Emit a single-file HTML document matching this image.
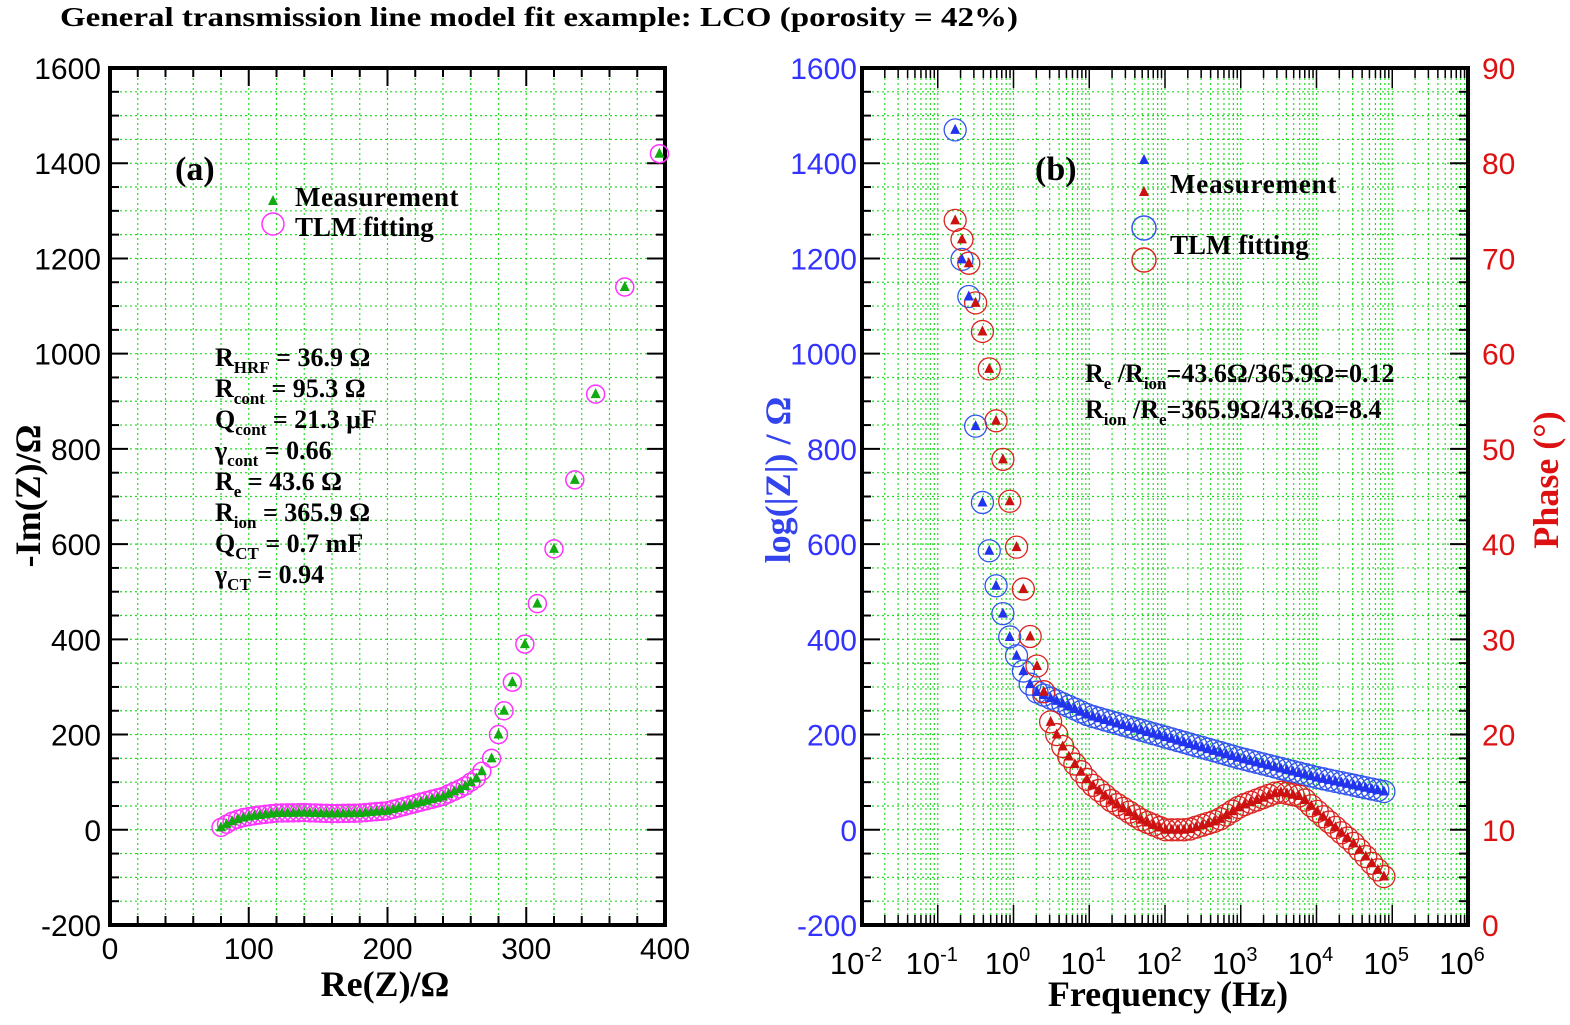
<!DOCTYPE html><html><head><meta charset="utf-8"><style>
body{margin:0;background:#fff;width:1570px;height:1020px;overflow:hidden}
svg{font-family:"Liberation Serif",serif}
.s{font-family:"Liberation Sans",sans-serif}
</style></head><body>
<svg id="c" width="1570" height="1020" xmlns="http://www.w3.org/2000/svg">
<text x="60" y="26" font-size="27" font-weight="bold" textLength="958" lengthAdjust="spacingAndGlyphs">General transmission line model fit example:  LCO (porosity = 42%)</text>
<g id="g"></g>
</svg>
<script>
const g=document.getElementById('g');let h='';
const ya=v=>925-(v+200)*(857/1800);
const xa=v=>110+v*(555/400);
const xb=f=>862+(Math.log10(f)+2)*(606/8);
const yp=p=>925-p*(857/90);
const dg='stroke="#22dd22" stroke-width="1.2" stroke-dasharray="2,3"';
for(let v=20;v<400;v+=20)h+=`<line x1="${xa(v)}" x2="${xa(v)}" y1="68" y2="925" ${dg}/>`;
for(let v=-150;v<1600;v+=50)h+=`<line x1="110" x2="665" y1="${ya(v)}" y2="${ya(v)}" ${dg}/>`;
for(let d=-2;d<6;d++)for(let k=1;k<10;k++){if(d==-2&&k==1)continue;let x=xb(k*10**d);h+=`<line x1="${x}" x2="${x}" y1="68" y2="925" ${dg}/>`;}
for(let v=-150;v<1600;v+=50)h+=`<line x1="862" x2="1468" y1="${ya(v)}" y2="${ya(v)}" ${dg}/>`;
for(let v=0;v<=400;v+=20){let L=v%100==0?18:9,x=xa(v);h+=`<line x1="${x}" x2="${x}" y1="925" y2="${925-L}" stroke="#000" stroke-width="2"/><line x1="${x}" x2="${x}" y1="68" y2="${68+L}" stroke="#000" stroke-width="2"/>`;}
for(let v=-200;v<=1600;v+=50){let L=v%200==0?18:9,y=ya(v);h+=`<line x1="110" x2="${110+L}" y1="${y}" y2="${y}" stroke="#000" stroke-width="2"/><line x1="665" x2="${665-L}" y1="${y}" y2="${y}" stroke="#000" stroke-width="2"/>`;}
for(let v=0;v<=400;v+=100)h+=`<text class="s" x="${xa(v)}" y="959" font-size="30" text-anchor="middle">${v}</text>`;
for(let v=-200;v<=1600;v+=200)h+=`<text class="s" x="101" y="${ya(v)+11}" font-size="30" text-anchor="end">${v}</text>`;
for(let d=-2;d<6;d++)for(let k=1;k<10;k++){let x=xb(k*10**d),L=k==1?20:10;h+=`<line x1="${x}" x2="${x}" y1="925" y2="${925-L}" stroke="#000" stroke-width="1.5"/><line x1="${x}" x2="${x}" y1="68" y2="${68+L}" stroke="#000" stroke-width="1.5"/>`;}
for(let v=-200;v<=1600;v+=50){let L=v%200==0?18:9,y=ya(v);h+=`<line x1="862" x2="${862+L}" y1="${y}" y2="${y}" stroke="#000" stroke-width="2"/>`;}
for(let p=0;p<=90;p+=2.5){let L=p%10==0?18:9,y=yp(p);h+=`<line x1="1468" x2="${1468-L}" y1="${y}" y2="${y}" stroke="#000" stroke-width="2"/>`;}
for(let d=-2;d<=6;d++)h+=`<text class="s" x="${xb(10**d)-6}" y="974" font-size="31" text-anchor="middle">10<tspan dy="-13" font-size="20">${d}</tspan></text>`;
for(let v=-200;v<=1600;v+=200)h+=`<text class="s" x="857" y="${ya(v)+11}" font-size="30" text-anchor="end" fill="#3333ff">${v}</text>`;
for(let p=0;p<=90;p+=10)h+=`<text class="s" x="1482" y="${yp(p)+11}" font-size="30" fill="#dd1111">${p}</text>`;
h+=`<rect x="110" y="68" width="555" height="857" fill="none" stroke="#000" stroke-width="4"/>`;
h+=`<rect x="862" y="68" width="606" height="857" fill="none" stroke="#000" stroke-width="4"/>`;
function interp(P,t){for(let i=0;i<P.length-1;i++)if(t<=P[i+1][0]){let r=(t-P[i][0])/(P[i+1][0]-P[i][0]);return P[i][1]+r*(P[i+1][1]-P[i][1]);}return P[P.length-1][1];}
const tri=(x,y,c)=>`<polygon points="${x-5},${y+4} ${x+5},${y+4} ${x},${y-6}" fill="${c}"/>`;
let LA=[[80,5],[83,10],[88,18],[95,25],[105,30],[120,35],[140,36],[160,34],[180,35],[200,40],[220,55],[240,70],[255,90],[265,110],[272,140]];
let HA=[[275,150],[280,200],[284,250],[290,310],[299,390],[308,475],[320,590],[335,735],[350,915],[371,1140],[396,1420]];
let ptsA=[];for(let r=80;r<272;r+=4)ptsA.push([r,interp(LA,r)]);ptsA=ptsA.concat(HA);
for(const[p,q]of ptsA)h+=`<circle cx="${xa(p)}" cy="${ya(q)}" r="9" fill="none" stroke="#ff33ff" stroke-width="1.5"/>`;
for(const[p,q]of ptsA)h+=tri(xa(p),ya(q),"#11aa11");
let Z=[[-0.77,1470],[-0.7,1200],[-0.6,1190],[-0.57,980],[-0.48,810],[-0.4,670],[-0.3,565],[-0.2,490],[-0.1,430],[0,380],[0.11,340],[0.2,310],[0.3,290],[1,240],[2,195],[3,150],[4,110],[4.9,80]];
let P=[[-0.77,74],[-0.7,72.5],[-0.6,70],[-0.52,66],[-0.4,62],[-0.3,57.5],[-0.2,51],[-0.1,47.5],[0,41.5],[0.11,36.5],[0.2,31],[0.3,27.5],[0.4,24.5],[0.48,21.5],[0.6,19.5],[0.7,18],[0.85,16.5],[1,15],[1.3,13],[1.7,11],[2,10],[2.3,10],[2.7,11],[3,12.5],[3.5,14],[3.8,13.5],[4,12],[4.5,8.5],[4.9,5]];
let ls=[];for(let l=-0.77;l<=4.91;l+=(l<0.4?0.09:0.08))ls.push(l);
for(const l of ls)h+=`<circle cx="${xb(10**l)}" cy="${ya(interp(Z,l))}" r="11" fill="none" stroke="#3355ee" stroke-width="1.3"/>`;
for(const l of ls)h+=`<circle cx="${xb(10**l)}" cy="${yp(interp(P,l))}" r="11" fill="none" stroke="#dd2222" stroke-width="1.3"/>`;
for(const l of ls)h+=tri(xb(10**l),ya(interp(Z,l)),"#2233ee");
for(const l of ls)h+=tri(xb(10**l),yp(interp(P,l)),"#cc1111");
h+=`<text x="385" y="996" font-size="36" font-weight="bold" text-anchor="middle">Re(Z)/Ω</text>`;
h+=`<text transform="translate(40,496) rotate(-90)" font-size="36" font-weight="bold" text-anchor="middle">-Im(Z)/Ω</text>`;
h+=`<text x="1168" y="1006" font-size="36" font-weight="bold" text-anchor="middle">Frequency (Hz)</text>`;
h+=`<text transform="translate(790,480) rotate(-90)" font-size="36" font-weight="bold" text-anchor="middle" fill="#3344ee">log(|Z|) / Ω</text>`;
h+=`<text transform="translate(1558,480) rotate(-90)" font-size="36" font-weight="bold" text-anchor="middle" fill="#dd1111">Phase (°)</text>`;
h+=`<text x="175" y="180" font-size="34" font-weight="bold">(a)</text><text x="1035" y="180" font-size="34" font-weight="bold">(b)</text>`;
h+=tri(273,201,"#11aa11")+`<text x="295" y="206" font-size="27" font-weight="bold" letter-spacing="0.5">Measurement</text>`;
h+=`<circle cx="273" cy="224" r="11" fill="none" stroke="#ff33ff" stroke-width="1.5"/><text x="295" y="236" font-size="27" font-weight="bold">TLM fitting</text>`;
h+=tri(1144,160,"#2233ee")+tri(1144,192,"#cc1111")+`<text x="1170" y="193" font-size="27" font-weight="bold" letter-spacing="0.8">Measurement</text>`;
h+=`<circle cx="1144" cy="228" r="12" fill="none" stroke="#3355ee" stroke-width="1.5"/><circle cx="1144" cy="260" r="12" fill="none" stroke="#dd2222" stroke-width="1.5"/><text x="1170" y="254" font-size="27" font-weight="bold">TLM fitting</text>`;
const par=[["R","HRF"," = 36.9 Ω"],["R","cont"," = 95.3 Ω"],["Q","cont"," = 21.3 μF"],["γ","cont"," = 0.66"],["R","e"," = 43.6 Ω"],["R","ion"," = 365.9 Ω"],["Q","CT"," = 0.7 mF"],["γ","CT"," = 0.94"]];
par.forEach((p,i)=>{h+=`<text x="215" y="${366+i*31}" font-size="26" font-weight="bold">${p[0]}<tspan dy="7" font-size="17">${p[1]}</tspan><tspan dy="-7">${p[2]}</tspan></text>`;});
h+=`<text x="1085" y="382" font-size="26" font-weight="bold">R<tspan dy="7" font-size="17">e</tspan><tspan dy="-7"> /R</tspan><tspan dy="7" font-size="17">ion</tspan><tspan dy="-7">=43.6Ω/365.9Ω=0.12</tspan></text>`;
h+=`<text x="1085" y="418" font-size="26" font-weight="bold">R<tspan dy="7" font-size="17">ion</tspan><tspan dy="-7"> /R</tspan><tspan dy="7" font-size="17">e</tspan><tspan dy="-7">=365.9Ω/43.6Ω=8.4</tspan></text>`;
g.innerHTML=h;
</script>
</body></html>
